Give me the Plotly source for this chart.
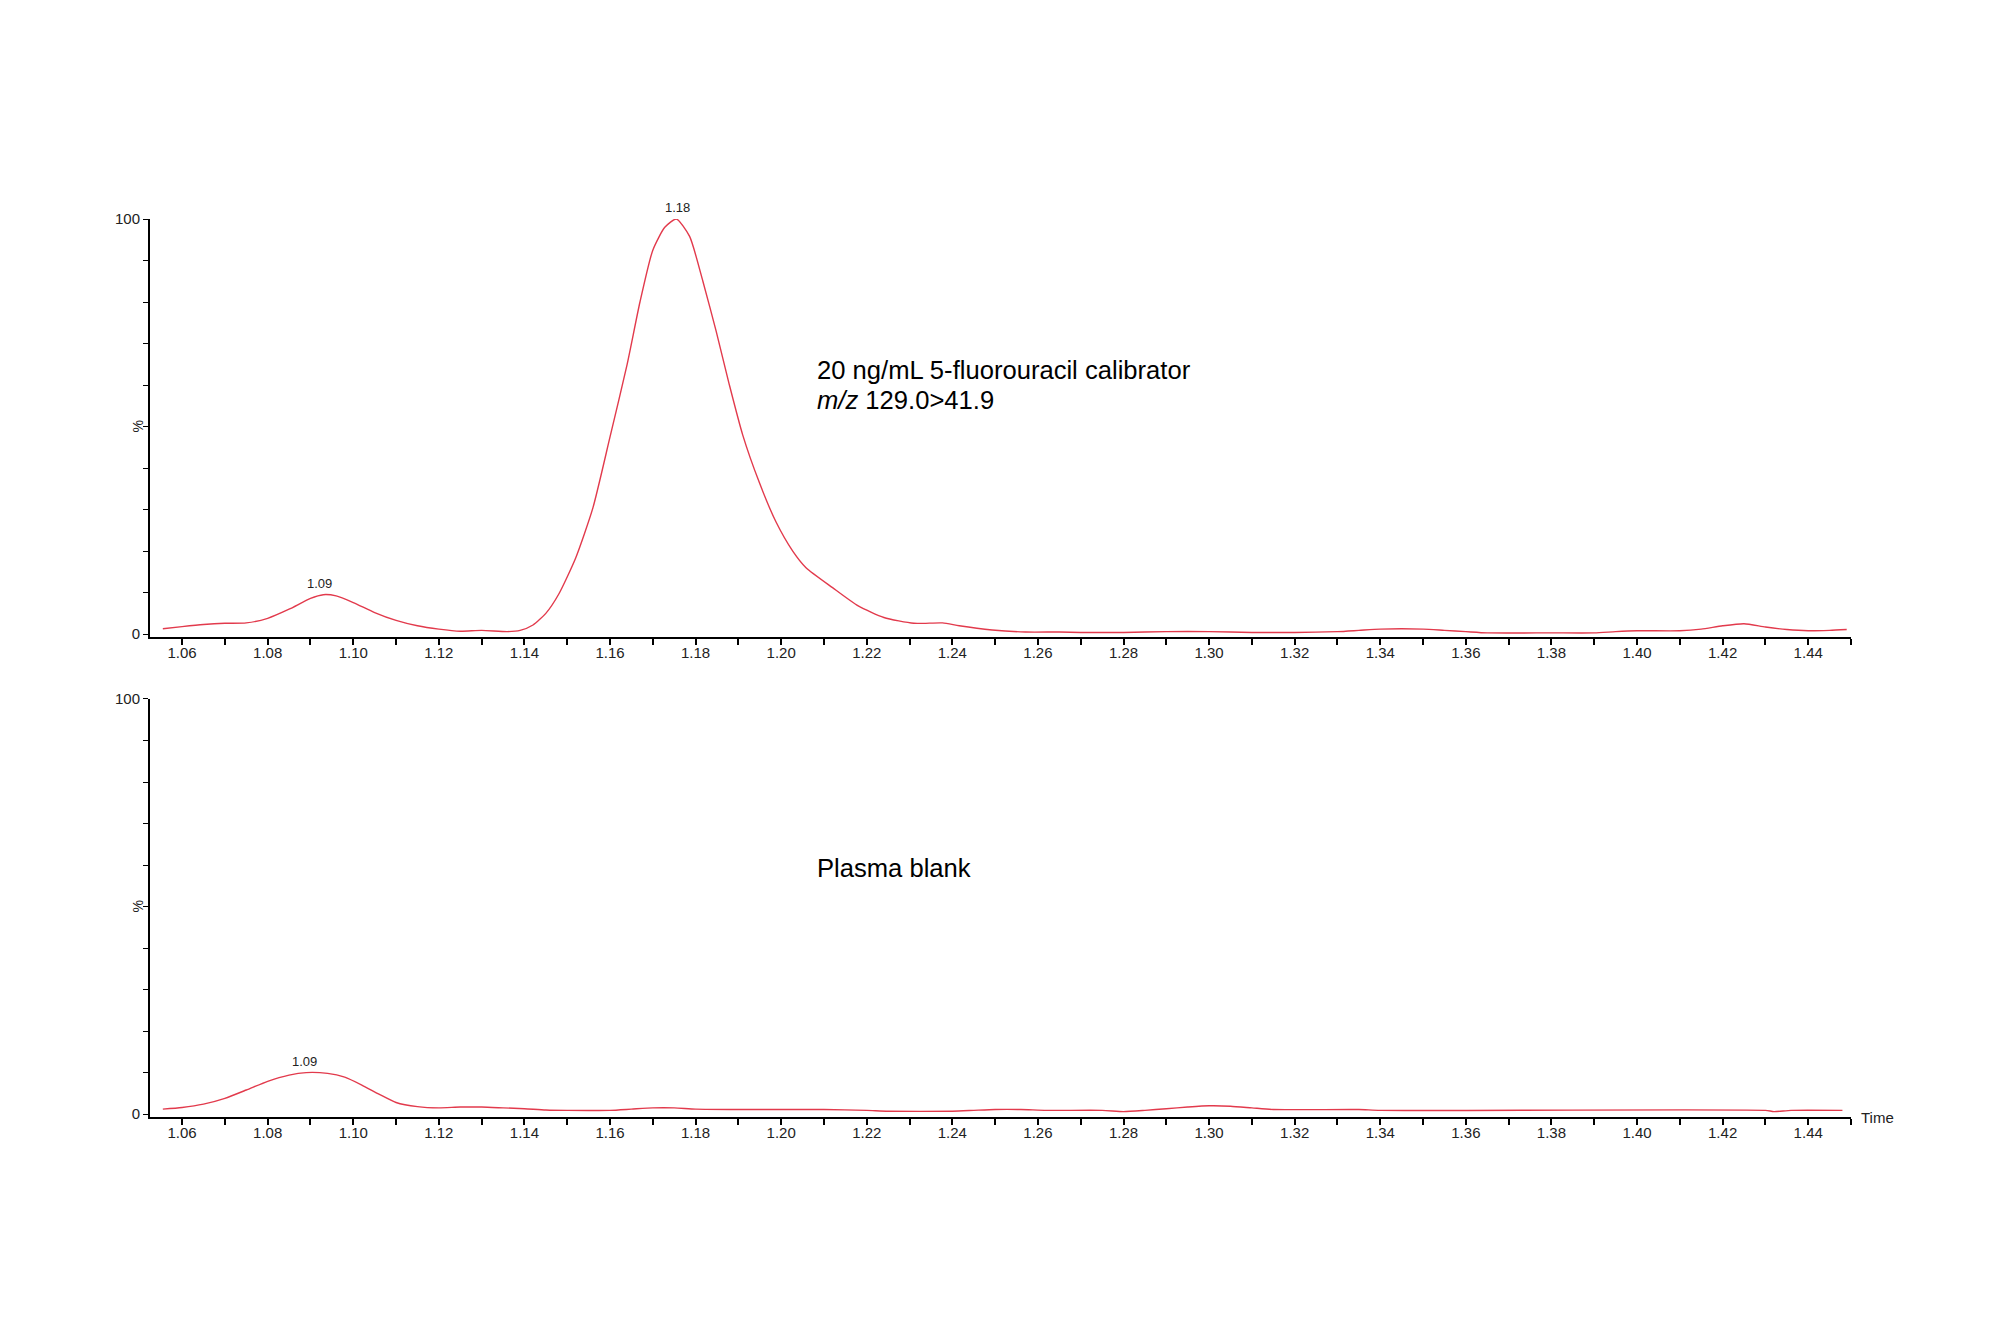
import plotly.graph_objects as go

# calibrator trace, m/z 129.0>41.9 (retention time in min, relative intensity %)
time_calibrator = [1.0555, 1.060, 1.065, 1.070, 1.075, 1.080, 1.085, 1.090, 1.093, 1.096,
                   1.100, 1.105, 1.110, 1.115, 1.120, 1.125, 1.130, 1.136, 1.139, 1.142,
                   1.145, 1.148, 1.152, 1.156, 1.160, 1.164, 1.167, 1.170, 1.1728, 1.1755,
                   1.1786, 1.1817, 1.1848, 1.1879, 1.191, 1.1949, 1.1988, 1.2027, 1.2058, 1.212,
                   1.218, 1.224, 1.231, 1.2377, 1.2416, 1.2493, 1.2571, 1.265, 1.27, 1.28,
                   1.29, 1.30, 1.31, 1.32, 1.33, 1.335, 1.34, 1.35, 1.355, 1.36,
                   1.365, 1.38, 1.39, 1.395, 1.40, 1.41, 1.415, 1.42, 1.425, 1.43,
                   1.435, 1.44, 1.445, 1.449]
intensity_calibrator = [1.3, 1.8, 2.3, 2.6, 2.7, 3.8, 6.0, 8.6, 9.5, 9.2,
                        7.6, 5.2, 3.3, 2.0, 1.2, 0.7, 0.9, 0.6, 0.9, 2.2,
                        5.0, 9.6, 18.4, 30.4, 47.5, 65.0, 80.0, 92.5, 98.0, 100.0,
                        95.8, 85.0, 73.0, 60.0, 48.0, 36.5, 27.0, 20.0, 16.0, 11.2,
                        6.8, 4.0, 2.6, 2.7, 2.0, 1.0, 0.5, 0.5, 0.4, 0.4,
                        0.6, 0.6, 0.4, 0.4, 0.6, 0.9, 1.2, 1.2, 0.9, 0.6,
                        0.3, 0.3, 0.3, 0.6, 0.8, 0.8, 1.2, 2.0, 2.5, 1.7,
                        1.1, 0.8, 0.9, 1.1]

# plasma blank trace
time_blank = [1.0555, 1.060, 1.065, 1.070, 1.075, 1.080, 1.085, 1.089, 1.094, 1.098,
              1.102, 1.106, 1.110, 1.115, 1.120, 1.125, 1.130, 1.135, 1.140, 1.145,
              1.150, 1.160, 1.165, 1.170, 1.175, 1.180, 1.190, 1.200, 1.210, 1.220,
              1.225, 1.240, 1.245, 1.250, 1.256, 1.262, 1.275, 1.280, 1.285, 1.290,
              1.295, 1.300, 1.305, 1.310, 1.315, 1.335, 1.340, 1.430, 1.432, 1.436,
              1.448]
intensity_blank = [1.2, 1.6, 2.4, 3.8, 5.8, 7.9, 9.4, 10.0, 9.8, 8.9,
                   7.0, 4.8, 2.8, 1.8, 1.5, 1.7, 1.7, 1.5, 1.3, 1.0,
                   0.9, 0.9, 1.2, 1.5, 1.5, 1.2, 1.1, 1.1, 1.1, 0.9,
                   0.7, 0.7, 0.9, 1.1, 1.1, 0.9, 0.9, 0.6, 0.9, 1.3,
                   1.7, 2.0, 1.9, 1.5, 1.1, 1.1, 0.9, 0.9, 0.6, 0.9,
                   0.9]

# peak labels: (time, intensity, text)
peaks_calibrator = [(1.092, 9.5, "1.09"), (1.1757, 100.0, "1.18")]
peaks_blank = [(1.0885, 10.0, "1.09")]

x_ticks = [round(1.06 + 0.01 * i, 2) for i in range(40)]
x_labels = [f"{v:.2f}" if i % 2 == 0 else "" for i, v in enumerate(x_ticks)]
y_ticks = list(range(0, 101, 10))
y_labels = ["0"] + [""] * 9 + ["100"]

LINE = "#E23A4C"
FONT = "Liberation Sans"

fig = go.Figure()
fig.add_trace(go.Scatter(x=time_calibrator, y=intensity_calibrator, mode="lines",
                         line=dict(color=LINE, width=1.4, shape="spline", smoothing=0.6),
                         xaxis="x", yaxis="y", showlegend=False))
fig.add_trace(go.Scatter(x=time_blank, y=intensity_blank, mode="lines",
                         line=dict(color=LINE, width=1.4, shape="spline", smoothing=0.6),
                         xaxis="x2", yaxis="y2", showlegend=False))

xax = dict(range=[1.0525, 1.45], tickvals=x_ticks + [1.45], ticktext=x_labels + [""],
           ticks="outside", ticklen=6, tickwidth=1.5, tickcolor="black", ticklabelstandoff=-5,
           showline=True, linecolor="black", linewidth=2, showgrid=False, zeroline=False,
           tickfont=dict(family=FONT, size=15, color="#222"))
yax = dict(range=[-0.7, 100], tickvals=y_ticks, ticktext=y_labels,
           ticks="outside", ticklen=5, tickwidth=1.2, tickcolor="black",
           showline=True, linecolor="black", linewidth=2, showgrid=False, zeroline=False,
           tickfont=dict(family=FONT, size=15, color="#222"))

# the page body adds 8px, so margins are trimmed on the top/left
fig.update_layout(
    width=2000, height=1333,
    paper_bgcolor="white", plot_bgcolor="white",
    margin=dict(l=142, r=157, t=211, b=224),
    xaxis=dict(xax, anchor="y"),
    yaxis=dict(yax, domain=[0.5345, 1.0], anchor="x"),
    xaxis2=dict(xax, anchor="y2"),
    yaxis2=dict(yax, domain=[0.0, 0.4655], anchor="x2"),
)

annotations = []
for x, y, t in peaks_calibrator:
    annotations.append(dict(x=x, y=y, xref="x", yref="y", text=t, showarrow=False,
                            yanchor="bottom", yshift=2, font=dict(family=FONT, size=13, color="#222")))
for x, y, t in peaks_blank:
    annotations.append(dict(x=x, y=y, xref="x2", yref="y2", text=t, showarrow=False,
                            yanchor="bottom", yshift=2, font=dict(family=FONT, size=13, color="#222")))

label_font = dict(family=FONT, size=25.6, color="black")
annotations += [
    dict(x=1.2079, y=63.6, xref="x", yref="y", xanchor="left", yanchor="middle",
         text="20 ng/mL 5-fluorouracil calibrator", showarrow=False, font=label_font),
    dict(x=1.2079, y=56.4, xref="x", yref="y", xanchor="left", yanchor="middle",
         text="<i>m/z</i> 129.0>41.9", showarrow=False, font=label_font),
    dict(x=1.2079, y=59.4, xref="x2", yref="y2", xanchor="left", yanchor="middle",
         text="Plasma blank", showarrow=False, font=label_font),
    dict(x=0, y=50, xref="paper", yref="y", xanchor="right", xshift=-2, text="%", textangle=-90,
         showarrow=False, font=dict(family=FONT, size=14, color="#222")),
    dict(x=0, y=50, xref="paper", yref="y2", xanchor="right", xshift=-2, text="%", textangle=-90,
         showarrow=False, font=dict(family=FONT, size=14, color="#222")),
    dict(x=1.0, y=0, xref="paper", yref="paper", xanchor="left", yanchor="middle", xshift=8,
         text="Time", showarrow=False, font=dict(family=FONT, size=15, color="#222")),
]
fig.update_layout(annotations=annotations)

fig.write_html("out.html")
